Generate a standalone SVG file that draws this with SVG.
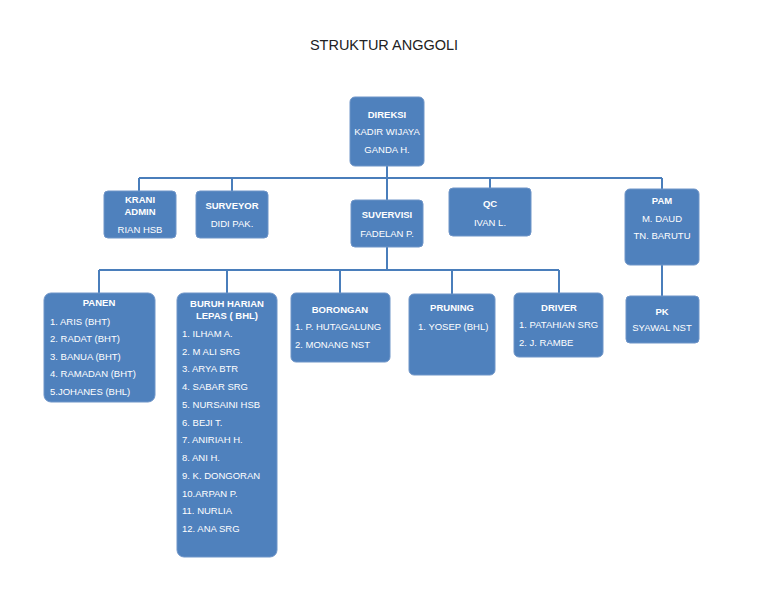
<svg xmlns="http://www.w3.org/2000/svg" width="768" height="594" viewBox="0 0 768 594">
<style>
.box{fill:#4F81BD;stroke:#6F95C8;stroke-width:1}
.h{font-family:"Liberation Sans",Arial,sans-serif;font-size:9.5px;font-weight:bold;fill:#fff;text-anchor:middle}
.c{font-family:"Liberation Sans",Arial,sans-serif;font-size:9.5px;fill:#fff;text-anchor:middle}
.l{font-family:"Liberation Sans",Arial,sans-serif;font-size:9.5px;fill:#fff}
.ln{fill:none;stroke:#4A7EBB;stroke-width:2}
.title{font-family:"Liberation Sans",Arial,sans-serif;font-size:14.5px;fill:#222;text-anchor:middle}
</style>
<rect width="768" height="594" fill="#fff"/>
<text class="title" x="384" y="50">STRUKTUR ANGGOLI</text>
<g id="connectors">
<path class="ln" d="M387 166V200M139 178H662M139 178V191M232 178V191M490 178V188M662 178V189"/>
<path class="ln" d="M387 247V270M99 270H559M99 270V293M227 270V293M340 270V293M452 270V294M559 270V293"/>
<path class="ln" d="M662 265V296"/>
</g>
<g id="direksi"><rect class="box" x="350" y="97" width="74" height="69" rx="5"/>
<text class="h" x="387" y="117.5">DIREKSI</text><text class="c" x="387" y="134.5">KADIR WIJAYA</text><text class="c" x="387" y="152.5">GANDA H.</text></g>
<g id="krani"><rect class="box" x="104" y="191" width="72" height="47" rx="4"/>
<text class="h" x="140" y="203">KRANI</text><text class="h" x="140" y="215">ADMIN</text><text class="c" x="140" y="233">RIAN HSB</text></g>
<g id="surveyor"><rect class="box" x="196" y="191" width="72" height="47" rx="4"/>
<text class="h" x="232" y="209">SURVEYOR</text><text class="c" x="232" y="227">DIDI PAK.</text></g>
<g id="suvervisi"><rect class="box" x="351" y="200" width="72" height="47" rx="4"/>
<text class="h" x="387" y="218">SUVERVISI</text><text class="c" x="387" y="237">FADELAN P.</text></g>
<g id="qc"><rect class="box" x="449" y="188" width="82" height="48" rx="4"/>
<text class="h" x="490" y="207">QC</text><text class="c" x="490" y="226">IVAN L.</text></g>
<g id="pam"><rect class="box" x="625" y="189" width="74" height="76" rx="5"/>
<text class="h" x="662" y="204">PAM</text><text class="c" x="662" y="222">M. DAUD</text><text class="c" x="662" y="239">TN. BARUTU</text></g>
<g id="pk"><rect class="box" x="626" y="296" width="73" height="47" rx="4"/>
<text class="h" x="662" y="315">PK</text><text class="c" x="662" y="331">SYAWAL NST</text></g>
<g id="panen"><rect class="box" x="44" y="293" width="111" height="109" rx="7"/>
<text class="h" x="99" y="306">PANEN</text>
<text class="l" x="50" y="325">1. ARIS (BHT)</text><text class="l" x="50" y="342">2. RADAT (BHT)</text><text class="l" x="50" y="360">3. BANUA (BHT)</text><text class="l" x="50" y="377">4. RAMADAN (BHT)</text><text class="l" x="50" y="395">5.JOHANES (BHL)</text></g>
<g id="bhl"><rect class="box" x="177" y="293" width="100" height="264" rx="7"/>
<text class="h" x="227" y="307">BURUH HARIAN</text><text class="h" x="227" y="319">LEPAS ( BHL)</text>
<text class="l" x="182" y="337">1. ILHAM A.</text><text class="l" x="182" y="355">2. M ALI SRG</text><text class="l" x="182" y="372">3. ARYA BTR</text><text class="l" x="182" y="390">4. SABAR SRG</text><text class="l" x="182" y="408">5. NURSAINI HSB</text><text class="l" x="182" y="426">6. BEJI T.</text><text class="l" x="182" y="443">7. ANIRIAH H.</text><text class="l" x="182" y="461">8. ANI H.</text><text class="l" x="182" y="479">9. K. DONGORAN</text><text class="l" x="182" y="497">10.ARPAN P.</text><text class="l" x="182" y="514">11. NURLIA</text><text class="l" x="182" y="532">12. ANA SRG</text></g>
<g id="borongan"><rect class="box" x="291" y="293" width="99" height="69" rx="5"/>
<text class="h" x="340" y="313">BORONGAN</text><text class="l" x="295" y="330">1. P. HUTAGALUNG</text><text class="l" x="295" y="348">2. MONANG NST</text></g>
<g id="pruning"><rect class="box" x="409" y="294" width="86" height="81" rx="5"/>
<text class="h" x="452" y="311">PRUNING</text><text class="l" x="418" y="330">1. YOSEP (BHL)</text></g>
<g id="driver"><rect class="box" x="514" y="293" width="89" height="64" rx="5"/>
<text class="h" x="559" y="311">DRIVER</text><text class="l" x="519" y="328">1. PATAHIAN SRG</text><text class="l" x="519" y="346">2. J. RAMBE</text></g>
</svg>
